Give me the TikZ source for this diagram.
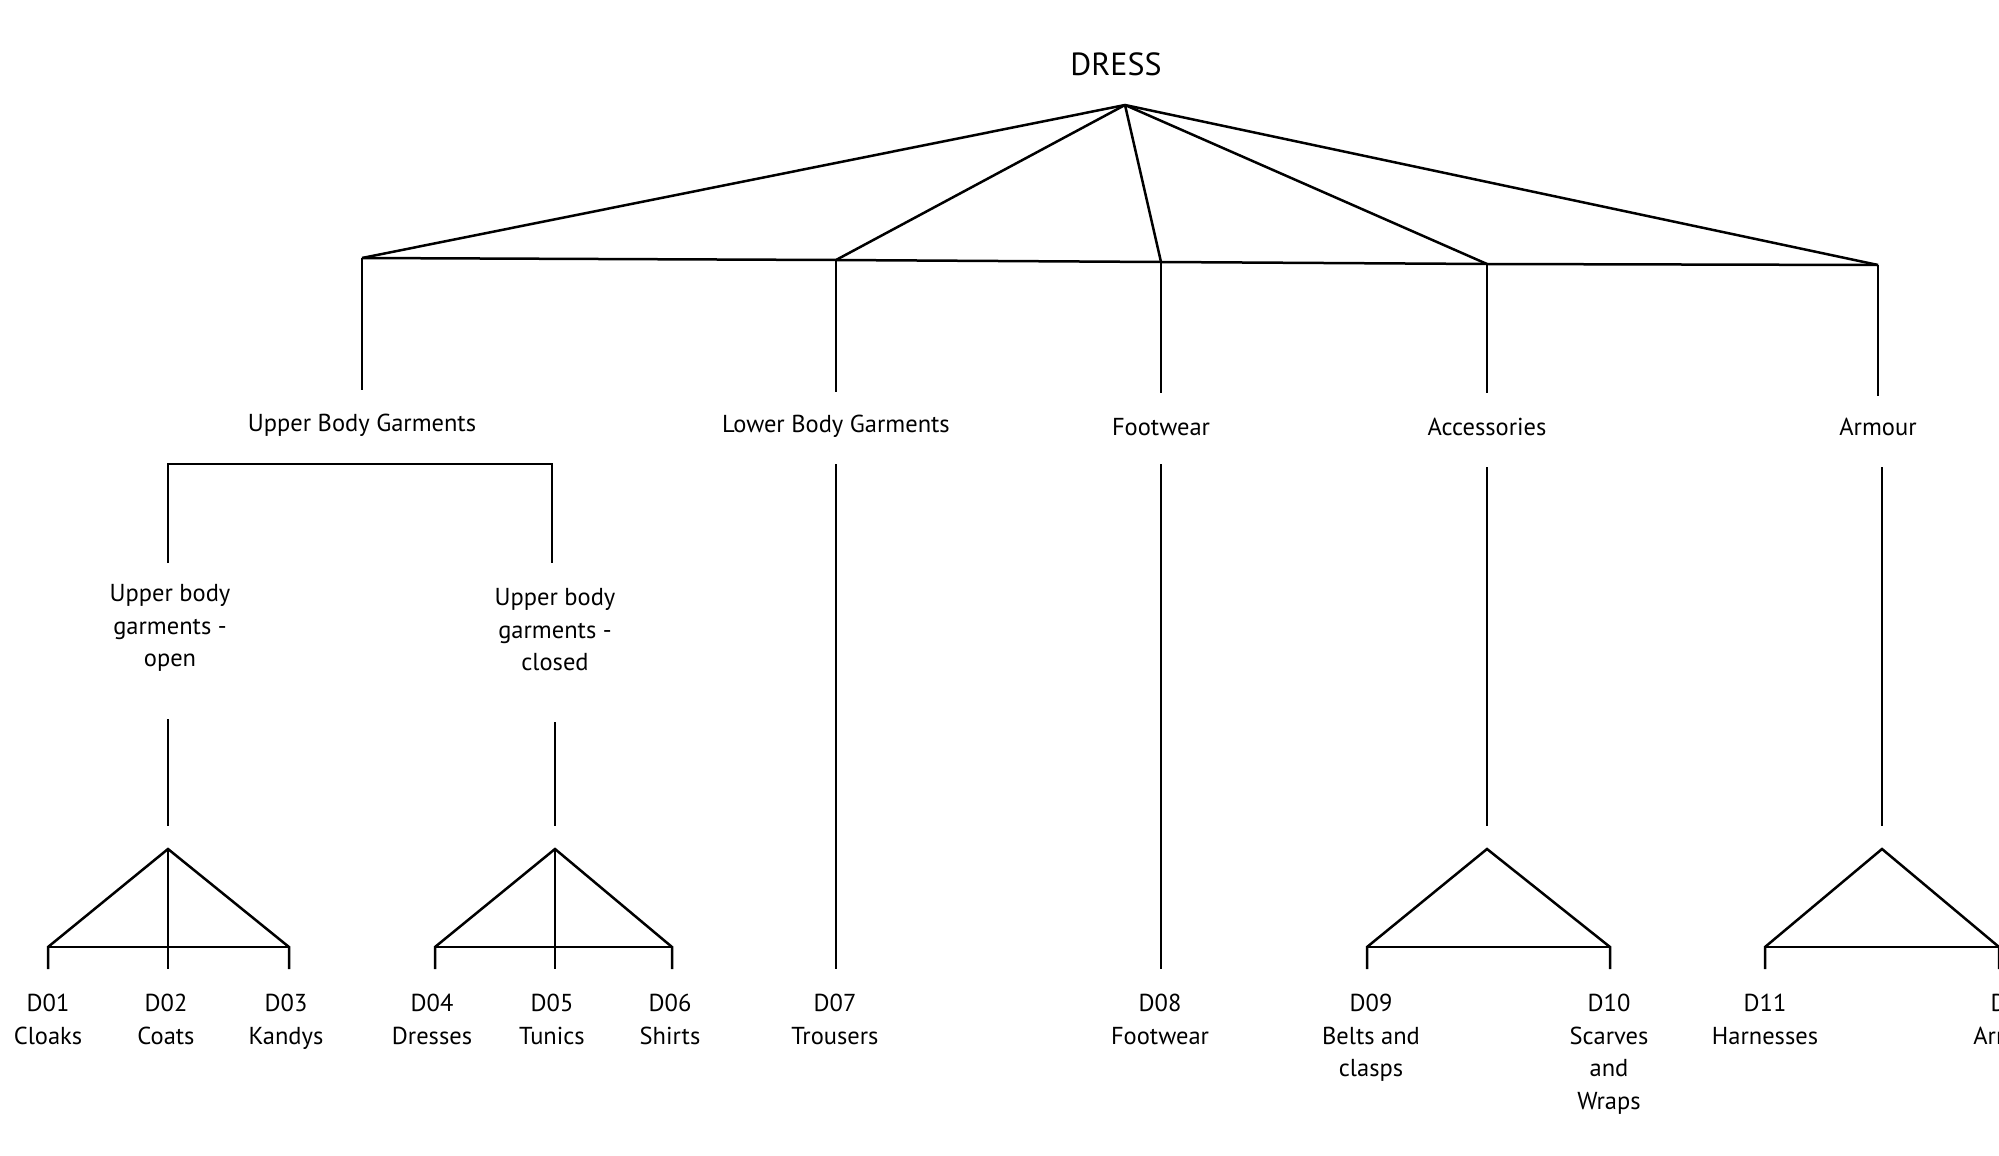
\documentclass[tikz,border=0pt]{standalone}
\usepackage{fontspec}
\setmainfont{PT Sans}
\begin{document}
\begin{tikzpicture}[x=1pt,y=-1pt,line width=2.5pt,
  lbl/.style={inner sep=0pt,align=center,font=\fontsize{24.5}{32.5}\selectfont},
  big/.style={inner sep=0pt,font=\fontsize{32}{36}\selectfont}]
\useasboundingbox (0,0) rectangle (1999,1156);
\clip (0,0) rectangle (1999,1156);
\node[big] (dress) at (1116,64) {DRESS};
\coordinate (ap) at (1125,105);
\coordinate (h1) at (362,258); \coordinate (h2) at (836,260);
\coordinate (h3) at (1161,262); \coordinate (h4) at (1487,264);
\coordinate (h5) at (1878,265);
\draw (h1)--(h2)--(h3)--(h4)--(h5);
\foreach \h in {h1,h2,h3,h4,h5} \draw (ap)--(\h);
\node[lbl] (ub) at (362,425) {Upper Body Garments};
\node[lbl] (lb) at (836,426) {Lower Body Garments};
\node[lbl] (fw) at (1161,427) {Footwear};
\node[lbl] (ac) at (1487,427) {Accessories};
\node[lbl] (ar) at (1878,427) {Armour};
\draw (h1)--(362,390); \draw (h2)--(836,392); \draw (h3)--(1161,393);
\draw (h4)--(1487,393); \draw (h5)--(1878,396);
% upper body split
\draw (168,563)--(168,464)--(552,464)--(552,563);
\node[lbl] (uo) at (170,628) {Upper body\\garments -\\open};
\node[lbl] (uc) at (555,630) {Upper body\\garments -\\closed};
\draw (168,719)--(168,826);
\draw (555,722)--(555,826);
% triangles
\newcommand\tri[4]{%
  \draw (#2,969)--(#2,947)--(#1,849)--(#3,947)--(#3,969);
  \draw (#2,947)--(#3,947);
  \ifx#4y\draw (#1,849)--(#1,969);\fi}
\tri{168}{48}{289}{y}
\tri{555}{435}{672}{y}
\tri{1487}{1367}{1610}{n}
\tri{1882}{1765}{1999}{n}
\draw (1487,467)--(1487,826);
\draw (1882,467)--(1882,826);
\draw (836,464)--(836,969);
\draw (1161,464)--(1161,969);
% leaves
\node[lbl,anchor=north] (d01) at (48,993) {D01\\Cloaks};
\node[lbl,anchor=north] (d02) at (166,993) {D02\\Coats};
\node[lbl,anchor=north] (d03) at (286,993) {D03\\Kandys};
\node[lbl,anchor=north] (d04) at (432,993) {D04\\Dresses};
\node[lbl,anchor=north] (d05) at (552,993) {D05\\Tunics};
\node[lbl,anchor=north] (d06) at (670,993) {D06\\Shirts};
\node[lbl,anchor=north] (d07) at (835,993) {D07\\Trousers};
\node[lbl,anchor=north] (d08) at (1160,993) {D08\\Footwear};
\node[lbl,anchor=north] (d09) at (1371,993) {D09\\Belts and\\clasps};
\node[lbl,anchor=north] (d10) at (1609,993) {D10\\Scarves\\and\\Wraps};
\node[lbl,anchor=north] (d11) at (1765,993) {D11\\Harnesses};
\node[lbl,anchor=north] (d12) at (2012,993) {D12\\Armour};
\end{tikzpicture}
\end{document}
